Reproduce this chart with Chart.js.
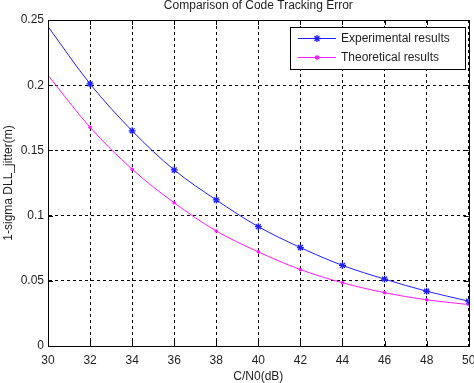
<!DOCTYPE html>
<html>
<head>
<meta charset="utf-8">
<script src="https://cdn.jsdelivr.net/npm/chart.js@4/dist/chart.umd.min.js"></script>
<style>
  html, body { margin: 0; padding: 0; background: #fff; }
  #wrap { width: 474px; height: 383px; position: relative; }
</style>
</head>
<body>
<div id="wrap"><canvas id="c" width="474" height="383"></canvas></div>
<script>
const titleText = 'Comparison of Code Tracking Error';
const xTitle = 'C/N0(dB)';
const yTitle = '1-sigma DLL_jitter(m)';
const cn0 = [30, 32, 34, 36, 38, 40, 42, 44, 46, 48, 50];
const experimental = [0.245, 0.201, 0.165, 0.135, 0.112, 0.0915, 0.0755, 0.0618, 0.0513, 0.042, 0.0344];
const theoretical = [0.2076, 0.1677, 0.1356, 0.1098, 0.0882, 0.0722, 0.0586, 0.0485, 0.0409, 0.0354, 0.0318];
const seriesLabels = ['Experimental results', 'Theoretical results'];
const xTicks = [30, 32, 34, 36, 38, 40, 42, 44, 46, 48, 50];
const yTicks = [0, 0.05, 0.1, 0.15, 0.2, 0.25];

const FONT = '"Liberation Sans", Arial, sans-serif';
const TXT = '#1e1e1e';
const BLUE = '#1f1fff';
const MAG = '#ff1aff';

function toXY(xs, ys) { return xs.map((x, i) => ({ x: x, y: ys[i] })); }

const boxPlugin = {
  id: 'boxPlugin',
  afterDraw(chart) {
    const ctx = chart.ctx;
    const a = chart.chartArea;
    const xs = chart.scales.x, ys = chart.scales.y;
    ctx.save();
    ctx.strokeStyle = '#000';
    ctx.lineWidth = 1;
    ctx.beginPath();
    xTicks.forEach(v => {
      const px = Math.round(xs.getPixelForValue(v)) + 0.5;
      ctx.moveTo(px, a.bottom); ctx.lineTo(px, a.bottom - 5);
      ctx.moveTo(px, a.top); ctx.lineTo(px, a.top + 5);
    });
    yTicks.forEach(v => {
      const py = Math.round(ys.getPixelForValue(v)) + 0.5;
      ctx.moveTo(a.left, py); ctx.lineTo(a.left + 5, py);
      ctx.moveTo(a.right, py); ctx.lineTo(a.right - 5, py);
    });
    ctx.stroke();
    ctx.strokeRect(Math.round(a.left) + 0.5, Math.round(a.top) + 0.5,
                   Math.round(a.right - a.left), Math.round(a.bottom - a.top));
    ctx.fillStyle = TXT;
    ctx.font = '12px ' + FONT;
    ctx.textAlign = 'center';
    ctx.textBaseline = 'alphabetic';
    ctx.fillText(titleText, (a.left + a.right) / 2, 9);
    const lx = 290, ly = 27, lw = 175, lh = 42;
    ctx.fillStyle = '#fff';
    ctx.fillRect(lx, ly, lw, lh);
    ctx.strokeStyle = '#000';
    ctx.strokeRect(lx + 0.5, ly + 0.5, lw, lh);
    chart.data.datasets.forEach((ds, i) => {
      const cy = ly + 11 + i * 19;
      ctx.strokeStyle = ds.borderColor;
      ctx.lineWidth = 1;
      ctx.beginPath();
      ctx.moveTo(lx + 8, cy + 0.5); ctx.lineTo(lx + 46, cy + 0.5);
      ctx.stroke();
      ctx.fillStyle = ds.borderColor;
      ctx.strokeStyle = ds.borderColor;
      ctx.lineWidth = 1.3;
      Chart.helpers.drawPoint(ctx, {
        pointStyle: ds.pointStyle, radius: i === 0 ? 3.5 : 1.6, rotation: 0, borderWidth: 1.3
      }, lx + 27, cy + 0.5);
      if (i === 1) { ctx.fill(); }
      ctx.fillStyle = TXT;
      ctx.font = '12px ' + FONT;
      ctx.textAlign = 'left';
      ctx.textBaseline = 'middle';
      ctx.fillText(ds.label, lx + 51, cy + 1);
    });
    ctx.restore();
  }
};

new Chart(document.getElementById('c'), {
  type: 'line',
  data: {
    datasets: [
      {
        label: seriesLabels[0],
        data: toXY(cn0, experimental),
        borderColor: BLUE,
        backgroundColor: BLUE,
        borderWidth: 1,
        pointStyle: 'star',
        pointRadius: c => (c.dataIndex === 0 ? 0 : 3.5),
        pointBorderWidth: 1.3,
        pointBorderColor: BLUE,
        cubicInterpolationMode: 'monotone',
        fill: false
      },
      {
        label: seriesLabels[1],
        data: toXY(cn0, theoretical),
        borderColor: MAG,
        backgroundColor: MAG,
        borderWidth: 1,
        pointStyle: 'circle',
        pointRadius: c => (c.dataIndex === 0 ? 0 : 1.8),
        pointBorderWidth: 0,
        cubicInterpolationMode: 'monotone',
        fill: false
      }
    ]
  },
  options: {
    responsive: false,
    animation: false,
    layout: { padding: { top: 20, right: 4, left: 0, bottom: 0 } },
    plugins: {
      legend: { display: false },
      title: { display: false },
      tooltip: { enabled: false }
    },
    scales: {
      x: {
        type: 'linear',
        min: 30, max: 50,
        afterBuildTicks: s => { s.ticks = xTicks.map(v => ({ value: v })); },
        afterFit: s => { s.height = 37; s.paddingLeft = 0; s.paddingRight = 0; },
        ticks: {
          color: TXT, font: { family: FONT, size: 12 }, padding: 7,
          maxRotation: 0, autoSkip: false,
          callback: v => String(v)
        },
        grid: { color: '#000', lineWidth: 1, drawTicks: false },
        border: { display: true, color: '#000', dash: [3, 3] },
        title: {
          display: true, text: xTitle, color: TXT,
          font: { family: FONT, size: 12, lineHeight: 1 },
          padding: { top: 0, bottom: 0 }
        }
      },
      y: {
        type: 'linear',
        min: 0, max: 0.25,
        afterBuildTicks: s => { s.ticks = yTicks.map(v => ({ value: v })); },
        afterFit: s => { s.width = 48; s.paddingTop = 0; s.paddingBottom = 0; },
        ticks: {
          color: TXT, font: { family: FONT, size: 12 }, padding: 4,
          autoSkip: false,
          callback: v => String(+v.toFixed(2))
        },
        grid: { color: '#000', lineWidth: 1, drawTicks: false },
        border: { display: true, color: '#000', dash: [3, 3] },
        title: {
          display: true, text: yTitle, color: TXT,
          font: { family: FONT, size: 12, lineHeight: 1.2 },
          padding: { top: 1, bottom: 0 }
        }
      }
    }
  },
  plugins: [boxPlugin]
});
</script>
</body>
</html>
